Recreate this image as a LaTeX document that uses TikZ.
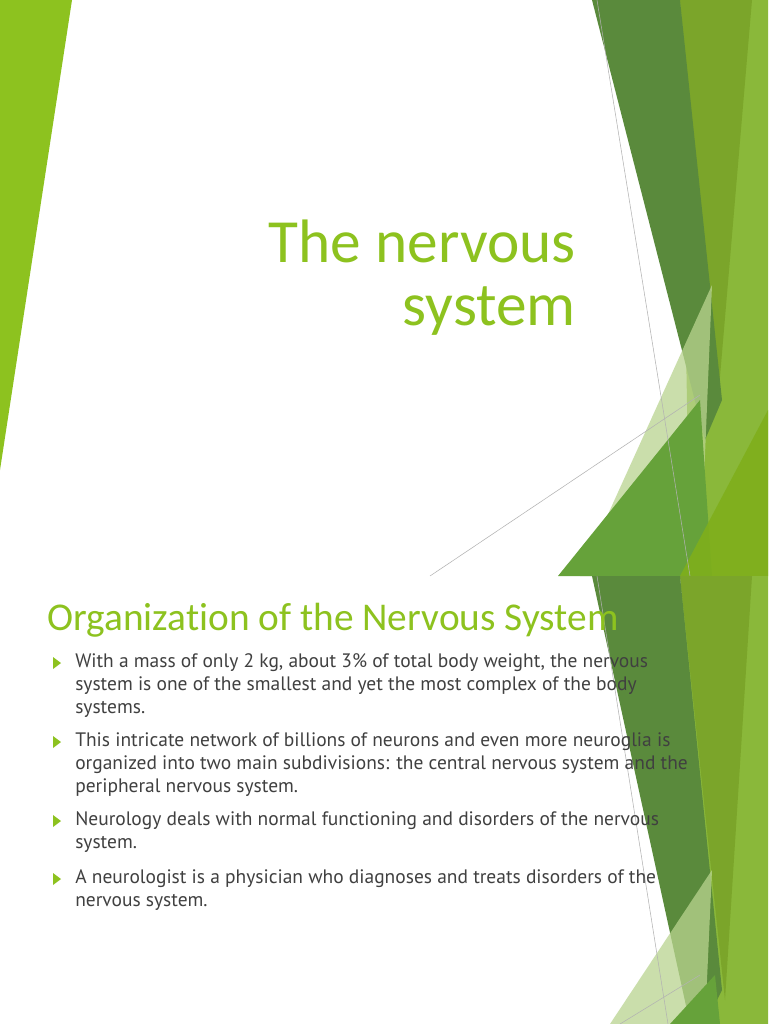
\documentclass[tikz,border=0pt]{standalone}
\usepackage{fontspec}
\setmainfont[Ligatures=NoCommon]{Carlito}
\newfontfamily\bodyfont{PT Sans}
\definecolor{lime}{HTML}{8DC21F}
\definecolor{dkg}{HTML}{5A8A3C}
\definecolor{midg}{HTML}{7BA52A}
\definecolor{rg}{HTML}{8AB83A}
\definecolor{trig}{HTML}{66A23A}
\definecolor{lt}{HTML}{B9D48F}
\definecolor{txt}{HTML}{404040}
\tikzset{
 title/.style={text=lime, inner sep=0pt},
 bul/.style={text=txt, font=\bodyfont\fontsize{14.6}{17.3}\selectfont, align=left, anchor=north west, inner sep=0pt},
 bulmark/.style={fill=lime, draw=none},
 thin/.style={draw=gray!60, line width=0.4pt}
}
\begin{document}
\begin{tikzpicture}[x=0.75pt,y=-0.75pt]
\useasboundingbox (0,0) rectangle (768,1024);
\fill[white] (0,0) rectangle (768,1024);
% ---- top slide ----
\begin{scope}
\clip (0,0) rectangle (768,576);
\fill[lime] (0,0) -- (72,0) -- (0,470) -- cycle;
\fill[rg] (680,0) -- (768,0) -- (768,576) -- (690,576) -- cycle;
\fill[midg] (680,0) -- (752,0) -- (718,400) -- cycle;
\fill[dkg] (592,0) -- (680,0) -- (722,400) -- (705,440) -- cycle;
\fill[lt, opacity=0.75] (580,576) -- (712,285) -- (700,576) -- cycle;
\fill[trig] (558,576) -- (700,400) -- (712,576) -- cycle;
\fill[lime!90!black, opacity=0.9] (680,576) -- (768,410) -- (768,576) -- cycle;
\draw[thin] (597,0) -- (690,576);
\draw[thin] (430,576) -- (700,395);
\end{scope}
\node[title, anchor=base east, font=\fontsize{46}{48}\selectfont] (t1) at (576,262) {The nervous};
\node[title, anchor=base east, font=\fontsize{46}{48}\selectfont] (t2) at (576,325) {system};
% ---- bottom slide ----
\begin{scope}
\clip (0,576) rectangle (768,1024);
\fill[rg] (680,576) -- (768,576) -- (768,1024) -- (715,1024) -- cycle;
\fill[midg] (680,576) -- (752,576) -- (725,1000) -- cycle;
\fill[dkg] (592,576) -- (680,576) -- (722,990) -- (705,1024) -- (690,1024) -- cycle;
\fill[lt, opacity=0.75] (610,1024) -- (712,870) -- (705,1024) -- cycle;
\fill[trig] (670,1024) -- (715,975) -- (720,1024) -- cycle;
\draw[thin] (597,576) -- (668,1024);
\draw[thin] (620,1024) -- (700,975);
\end{scope}
\node[title, anchor=base west, font=\fontsize{29.5}{32}\selectfont] (h) at (47,630) {Organization of the Nervous System};
\foreach \yy in {663,742,821,879}{\fill[bulmark] (53,\yy-6) -- (61,\yy) -- (53,\yy+6) -- cycle;}
\node[bul] (b1) at (75,653) {With a mass of only 2 kg, about 3\% of total body weight, the nervous\\system is one of the smallest and yet the most complex of the body\\systems.};
\node[bul] (b2) at (75,732) {This intricate network of billions of neurons and even more neuroglia is\\organized into two main subdivisions: the central nervous system and the\\peripheral nervous system.};
\node[bul] (b3) at (75,811) {Neurology deals with normal functioning and disorders of the nervous\\system.};
\node[bul] (b4) at (75,869) {A neurologist is a physician who diagnoses and treats disorders of the\\nervous system.};
\end{tikzpicture}
\end{document}
